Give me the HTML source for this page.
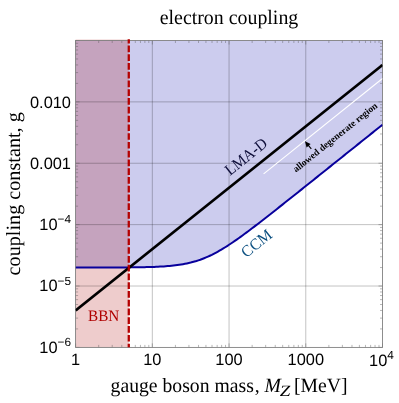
<!DOCTYPE html>
<html><head><meta charset="utf-8"><title>electron coupling</title>
<style>html,body{margin:0;padding:0;background:#fff}svg{display:block}</style></head>
<body>
<svg text-rendering="geometricPrecision" width="399" height="403" viewBox="0 0 399 403">
<rect width="399" height="403" fill="#fff"/>
<polygon points="75.6,40.5 75.60,267.54 77.52,267.54 79.44,267.54 81.35,267.53 83.27,267.53 85.19,267.53 87.11,267.53 89.03,267.53 90.94,267.53 92.86,267.53 94.78,267.52 96.70,267.52 98.62,267.52 100.54,267.52 102.45,267.51 104.37,267.51 106.29,267.50 108.21,267.50 110.13,267.50 112.04,267.49 113.96,267.48 115.88,267.48 117.80,267.47 119.72,267.46 121.63,267.45 123.55,267.44 125.47,267.42 127.39,267.41 129.31,267.39 131.23,267.37 133.14,267.35 135.06,267.33 136.98,267.31 138.90,267.28 140.82,267.24 142.73,267.21 144.65,267.17 146.57,267.12 148.49,267.07 150.41,267.02 152.32,266.95 154.24,266.88 156.16,266.81 158.08,266.72 160.00,266.62 161.92,266.51 163.83,266.39 165.75,266.26 167.67,266.11 169.59,265.95 171.51,265.76 173.42,265.56 175.34,265.34 177.26,265.09 179.18,264.82 181.10,264.53 183.01,264.20 184.93,263.85 186.85,263.46 188.77,263.03 190.69,262.58 192.61,262.08 194.52,261.54 196.44,260.97 198.36,260.35 200.28,259.69 202.20,258.98 204.11,258.23 206.03,257.44 207.95,256.60 209.87,255.72 211.79,254.80 213.70,253.83 215.62,252.82 217.54,251.78 219.46,250.70 221.38,249.58 223.30,248.43 225.21,247.24 227.13,246.03 229.05,244.78 230.97,243.51 232.89,242.22 234.80,240.90 236.72,239.57 238.64,238.21 240.56,236.84 242.48,235.45 244.39,234.05 246.31,232.63 248.23,231.20 250.15,229.76 252.07,228.31 253.99,226.86 255.90,225.39 257.82,223.92 259.74,222.44 261.66,220.95 263.58,219.46 265.49,217.97 267.41,216.47 269.33,214.96 271.25,213.46 273.17,211.95 275.08,210.44 277.00,208.92 278.92,207.41 280.84,205.89 282.76,204.37 284.68,202.84 286.59,201.32 288.51,199.80 290.43,198.27 292.35,196.75 294.27,195.22 296.18,193.69 298.10,192.16 300.02,190.63 301.94,189.10 303.86,187.57 305.77,186.04 307.69,184.51 309.61,182.98 311.53,181.45 313.45,179.91 315.37,178.38 317.28,176.85 319.20,175.31 321.12,173.78 323.04,172.25 324.96,170.72 326.87,169.18 328.79,167.65 330.71,166.11 332.63,164.58 334.55,163.05 336.46,161.51 338.38,159.98 340.30,158.44 342.22,156.91 344.14,155.38 346.06,153.84 347.97,152.31 349.89,150.77 351.81,149.24 353.73,147.71 355.65,146.17 357.56,144.64 359.48,143.10 361.40,141.57 363.32,140.03 365.24,138.50 367.15,136.96 369.07,135.43 370.99,133.90 372.91,132.36 374.83,130.83 376.75,129.29 378.66,127.76 380.58,126.22 382.50,124.69 382.5,40.5" fill="#0000aa" fill-opacity="0.2"/>
<rect x="75.6" y="39.5" width="53.18" height="307.9" fill="#aa0000" fill-opacity="0.2"/>
<g stroke="#000" stroke-opacity="0.24" stroke-width="1"><line x1="152.32" y1="40.5" x2="152.32" y2="347.4"/><line x1="229.05" y1="40.5" x2="229.05" y2="347.4"/><line x1="305.77" y1="40.5" x2="305.77" y2="347.4"/><line x1="75.6" y1="286.02" x2="382.5" y2="286.02"/><line x1="75.6" y1="224.64" x2="382.5" y2="224.64"/><line x1="75.6" y1="163.26" x2="382.5" y2="163.26"/><line x1="75.6" y1="101.88" x2="382.5" y2="101.88"/></g>
<g stroke="#555" stroke-opacity="0.7" stroke-width="0.6"><line x1="75.60" y1="347.4" x2="75.60" y2="343.4"/><line x1="75.60" y1="40.5" x2="75.60" y2="44.5"/><line x1="98.70" y1="347.4" x2="98.70" y2="344.9"/><line x1="98.70" y1="40.5" x2="98.70" y2="43.0"/><line x1="112.21" y1="347.4" x2="112.21" y2="344.9"/><line x1="112.21" y1="40.5" x2="112.21" y2="43.0"/><line x1="121.79" y1="347.4" x2="121.79" y2="344.9"/><line x1="121.79" y1="40.5" x2="121.79" y2="43.0"/><line x1="129.23" y1="347.4" x2="129.23" y2="344.9"/><line x1="129.23" y1="40.5" x2="129.23" y2="43.0"/><line x1="135.30" y1="347.4" x2="135.30" y2="344.9"/><line x1="135.30" y1="40.5" x2="135.30" y2="43.0"/><line x1="140.44" y1="347.4" x2="140.44" y2="344.9"/><line x1="140.44" y1="40.5" x2="140.44" y2="43.0"/><line x1="144.89" y1="347.4" x2="144.89" y2="344.9"/><line x1="144.89" y1="40.5" x2="144.89" y2="43.0"/><line x1="148.81" y1="347.4" x2="148.81" y2="344.9"/><line x1="148.81" y1="40.5" x2="148.81" y2="43.0"/><line x1="152.32" y1="347.4" x2="152.32" y2="343.4"/><line x1="152.32" y1="40.5" x2="152.32" y2="44.5"/><line x1="175.42" y1="347.4" x2="175.42" y2="344.9"/><line x1="175.42" y1="40.5" x2="175.42" y2="43.0"/><line x1="188.93" y1="347.4" x2="188.93" y2="344.9"/><line x1="188.93" y1="40.5" x2="188.93" y2="43.0"/><line x1="198.52" y1="347.4" x2="198.52" y2="344.9"/><line x1="198.52" y1="40.5" x2="198.52" y2="43.0"/><line x1="205.95" y1="347.4" x2="205.95" y2="344.9"/><line x1="205.95" y1="40.5" x2="205.95" y2="43.0"/><line x1="212.03" y1="347.4" x2="212.03" y2="344.9"/><line x1="212.03" y1="40.5" x2="212.03" y2="43.0"/><line x1="217.17" y1="347.4" x2="217.17" y2="344.9"/><line x1="217.17" y1="40.5" x2="217.17" y2="43.0"/><line x1="221.61" y1="347.4" x2="221.61" y2="344.9"/><line x1="221.61" y1="40.5" x2="221.61" y2="43.0"/><line x1="225.54" y1="347.4" x2="225.54" y2="344.9"/><line x1="225.54" y1="40.5" x2="225.54" y2="43.0"/><line x1="229.05" y1="347.4" x2="229.05" y2="343.4"/><line x1="229.05" y1="40.5" x2="229.05" y2="44.5"/><line x1="252.15" y1="347.4" x2="252.15" y2="344.9"/><line x1="252.15" y1="40.5" x2="252.15" y2="43.0"/><line x1="265.66" y1="347.4" x2="265.66" y2="344.9"/><line x1="265.66" y1="40.5" x2="265.66" y2="43.0"/><line x1="275.24" y1="347.4" x2="275.24" y2="344.9"/><line x1="275.24" y1="40.5" x2="275.24" y2="43.0"/><line x1="282.68" y1="347.4" x2="282.68" y2="344.9"/><line x1="282.68" y1="40.5" x2="282.68" y2="43.0"/><line x1="288.75" y1="347.4" x2="288.75" y2="344.9"/><line x1="288.75" y1="40.5" x2="288.75" y2="43.0"/><line x1="293.89" y1="347.4" x2="293.89" y2="344.9"/><line x1="293.89" y1="40.5" x2="293.89" y2="43.0"/><line x1="298.34" y1="347.4" x2="298.34" y2="344.9"/><line x1="298.34" y1="40.5" x2="298.34" y2="43.0"/><line x1="302.26" y1="347.4" x2="302.26" y2="344.9"/><line x1="302.26" y1="40.5" x2="302.26" y2="43.0"/><line x1="305.77" y1="347.4" x2="305.77" y2="343.4"/><line x1="305.77" y1="40.5" x2="305.77" y2="44.5"/><line x1="328.87" y1="347.4" x2="328.87" y2="344.9"/><line x1="328.87" y1="40.5" x2="328.87" y2="43.0"/><line x1="342.38" y1="347.4" x2="342.38" y2="344.9"/><line x1="342.38" y1="40.5" x2="342.38" y2="43.0"/><line x1="351.97" y1="347.4" x2="351.97" y2="344.9"/><line x1="351.97" y1="40.5" x2="351.97" y2="43.0"/><line x1="359.40" y1="347.4" x2="359.40" y2="344.9"/><line x1="359.40" y1="40.5" x2="359.40" y2="43.0"/><line x1="365.48" y1="347.4" x2="365.48" y2="344.9"/><line x1="365.48" y1="40.5" x2="365.48" y2="43.0"/><line x1="370.62" y1="347.4" x2="370.62" y2="344.9"/><line x1="370.62" y1="40.5" x2="370.62" y2="43.0"/><line x1="375.06" y1="347.4" x2="375.06" y2="344.9"/><line x1="375.06" y1="40.5" x2="375.06" y2="43.0"/><line x1="378.99" y1="347.4" x2="378.99" y2="344.9"/><line x1="378.99" y1="40.5" x2="378.99" y2="43.0"/><line x1="382.50" y1="347.4" x2="382.50" y2="343.4"/><line x1="382.50" y1="40.5" x2="382.50" y2="44.5"/><line x1="75.6" y1="347.40" x2="79.6" y2="347.40"/><line x1="382.5" y1="347.40" x2="378.5" y2="347.40"/><line x1="75.6" y1="328.92" x2="78.1" y2="328.92"/><line x1="382.5" y1="328.92" x2="380.0" y2="328.92"/><line x1="75.6" y1="318.11" x2="78.1" y2="318.11"/><line x1="382.5" y1="318.11" x2="380.0" y2="318.11"/><line x1="75.6" y1="310.45" x2="78.1" y2="310.45"/><line x1="382.5" y1="310.45" x2="380.0" y2="310.45"/><line x1="75.6" y1="304.50" x2="78.1" y2="304.50"/><line x1="382.5" y1="304.50" x2="380.0" y2="304.50"/><line x1="75.6" y1="299.64" x2="78.1" y2="299.64"/><line x1="382.5" y1="299.64" x2="380.0" y2="299.64"/><line x1="75.6" y1="295.53" x2="78.1" y2="295.53"/><line x1="382.5" y1="295.53" x2="380.0" y2="295.53"/><line x1="75.6" y1="291.97" x2="78.1" y2="291.97"/><line x1="382.5" y1="291.97" x2="380.0" y2="291.97"/><line x1="75.6" y1="288.83" x2="78.1" y2="288.83"/><line x1="382.5" y1="288.83" x2="380.0" y2="288.83"/><line x1="75.6" y1="286.02" x2="79.6" y2="286.02"/><line x1="382.5" y1="286.02" x2="378.5" y2="286.02"/><line x1="75.6" y1="267.54" x2="78.1" y2="267.54"/><line x1="382.5" y1="267.54" x2="380.0" y2="267.54"/><line x1="75.6" y1="256.73" x2="78.1" y2="256.73"/><line x1="382.5" y1="256.73" x2="380.0" y2="256.73"/><line x1="75.6" y1="249.07" x2="78.1" y2="249.07"/><line x1="382.5" y1="249.07" x2="380.0" y2="249.07"/><line x1="75.6" y1="243.12" x2="78.1" y2="243.12"/><line x1="382.5" y1="243.12" x2="380.0" y2="243.12"/><line x1="75.6" y1="238.26" x2="78.1" y2="238.26"/><line x1="382.5" y1="238.26" x2="380.0" y2="238.26"/><line x1="75.6" y1="234.15" x2="78.1" y2="234.15"/><line x1="382.5" y1="234.15" x2="380.0" y2="234.15"/><line x1="75.6" y1="230.59" x2="78.1" y2="230.59"/><line x1="382.5" y1="230.59" x2="380.0" y2="230.59"/><line x1="75.6" y1="227.45" x2="78.1" y2="227.45"/><line x1="382.5" y1="227.45" x2="380.0" y2="227.45"/><line x1="75.6" y1="224.64" x2="79.6" y2="224.64"/><line x1="382.5" y1="224.64" x2="378.5" y2="224.64"/><line x1="75.6" y1="206.16" x2="78.1" y2="206.16"/><line x1="382.5" y1="206.16" x2="380.0" y2="206.16"/><line x1="75.6" y1="195.35" x2="78.1" y2="195.35"/><line x1="382.5" y1="195.35" x2="380.0" y2="195.35"/><line x1="75.6" y1="187.69" x2="78.1" y2="187.69"/><line x1="382.5" y1="187.69" x2="380.0" y2="187.69"/><line x1="75.6" y1="181.74" x2="78.1" y2="181.74"/><line x1="382.5" y1="181.74" x2="380.0" y2="181.74"/><line x1="75.6" y1="176.88" x2="78.1" y2="176.88"/><line x1="382.5" y1="176.88" x2="380.0" y2="176.88"/><line x1="75.6" y1="172.77" x2="78.1" y2="172.77"/><line x1="382.5" y1="172.77" x2="380.0" y2="172.77"/><line x1="75.6" y1="169.21" x2="78.1" y2="169.21"/><line x1="382.5" y1="169.21" x2="380.0" y2="169.21"/><line x1="75.6" y1="166.07" x2="78.1" y2="166.07"/><line x1="382.5" y1="166.07" x2="380.0" y2="166.07"/><line x1="75.6" y1="163.26" x2="79.6" y2="163.26"/><line x1="382.5" y1="163.26" x2="378.5" y2="163.26"/><line x1="75.6" y1="144.78" x2="78.1" y2="144.78"/><line x1="382.5" y1="144.78" x2="380.0" y2="144.78"/><line x1="75.6" y1="133.97" x2="78.1" y2="133.97"/><line x1="382.5" y1="133.97" x2="380.0" y2="133.97"/><line x1="75.6" y1="126.31" x2="78.1" y2="126.31"/><line x1="382.5" y1="126.31" x2="380.0" y2="126.31"/><line x1="75.6" y1="120.36" x2="78.1" y2="120.36"/><line x1="382.5" y1="120.36" x2="380.0" y2="120.36"/><line x1="75.6" y1="115.50" x2="78.1" y2="115.50"/><line x1="382.5" y1="115.50" x2="380.0" y2="115.50"/><line x1="75.6" y1="111.39" x2="78.1" y2="111.39"/><line x1="382.5" y1="111.39" x2="380.0" y2="111.39"/><line x1="75.6" y1="107.83" x2="78.1" y2="107.83"/><line x1="382.5" y1="107.83" x2="380.0" y2="107.83"/><line x1="75.6" y1="104.69" x2="78.1" y2="104.69"/><line x1="382.5" y1="104.69" x2="380.0" y2="104.69"/><line x1="75.6" y1="101.88" x2="79.6" y2="101.88"/><line x1="382.5" y1="101.88" x2="378.5" y2="101.88"/><line x1="75.6" y1="83.40" x2="78.1" y2="83.40"/><line x1="382.5" y1="83.40" x2="380.0" y2="83.40"/><line x1="75.6" y1="72.59" x2="78.1" y2="72.59"/><line x1="382.5" y1="72.59" x2="380.0" y2="72.59"/><line x1="75.6" y1="64.93" x2="78.1" y2="64.93"/><line x1="382.5" y1="64.93" x2="380.0" y2="64.93"/><line x1="75.6" y1="58.98" x2="78.1" y2="58.98"/><line x1="382.5" y1="58.98" x2="380.0" y2="58.98"/><line x1="75.6" y1="54.12" x2="78.1" y2="54.12"/><line x1="382.5" y1="54.12" x2="380.0" y2="54.12"/><line x1="75.6" y1="50.01" x2="78.1" y2="50.01"/><line x1="382.5" y1="50.01" x2="380.0" y2="50.01"/><line x1="75.6" y1="46.45" x2="78.1" y2="46.45"/><line x1="382.5" y1="46.45" x2="380.0" y2="46.45"/><line x1="75.6" y1="43.31" x2="78.1" y2="43.31"/><line x1="382.5" y1="43.31" x2="380.0" y2="43.31"/><line x1="75.6" y1="40.50" x2="79.6" y2="40.50"/><line x1="382.5" y1="40.50" x2="378.5" y2="40.50"/></g>
<rect x="75.6" y="40.5" width="306.9" height="306.9" fill="none" stroke="#7a7a7a" stroke-width="0.85"/>
<clipPath id="fr"><rect x="75.6" y="39.0" width="306.9" height="308.4"/></clipPath><g clip-path="url(#fr)">
<polyline points="75.60,267.54 77.52,267.54 79.44,267.54 81.35,267.53 83.27,267.53 85.19,267.53 87.11,267.53 89.03,267.53 90.94,267.53 92.86,267.53 94.78,267.52 96.70,267.52 98.62,267.52 100.54,267.52 102.45,267.51 104.37,267.51 106.29,267.50 108.21,267.50 110.13,267.50 112.04,267.49 113.96,267.48 115.88,267.48 117.80,267.47 119.72,267.46 121.63,267.45 123.55,267.44 125.47,267.42 127.39,267.41 129.31,267.39 131.23,267.37 133.14,267.35 135.06,267.33 136.98,267.31 138.90,267.28 140.82,267.24 142.73,267.21 144.65,267.17 146.57,267.12 148.49,267.07 150.41,267.02 152.32,266.95 154.24,266.88 156.16,266.81 158.08,266.72 160.00,266.62 161.92,266.51 163.83,266.39 165.75,266.26 167.67,266.11 169.59,265.95 171.51,265.76 173.42,265.56 175.34,265.34 177.26,265.09 179.18,264.82 181.10,264.53 183.01,264.20 184.93,263.85 186.85,263.46 188.77,263.03 190.69,262.58 192.61,262.08 194.52,261.54 196.44,260.97 198.36,260.35 200.28,259.69 202.20,258.98 204.11,258.23 206.03,257.44 207.95,256.60 209.87,255.72 211.79,254.80 213.70,253.83 215.62,252.82 217.54,251.78 219.46,250.70 221.38,249.58 223.30,248.43 225.21,247.24 227.13,246.03 229.05,244.78 230.97,243.51 232.89,242.22 234.80,240.90 236.72,239.57 238.64,238.21 240.56,236.84 242.48,235.45 244.39,234.05 246.31,232.63 248.23,231.20 250.15,229.76 252.07,228.31 253.99,226.86 255.90,225.39 257.82,223.92 259.74,222.44 261.66,220.95 263.58,219.46 265.49,217.97 267.41,216.47 269.33,214.96 271.25,213.46 273.17,211.95 275.08,210.44 277.00,208.92 278.92,207.41 280.84,205.89 282.76,204.37 284.68,202.84 286.59,201.32 288.51,199.80 290.43,198.27 292.35,196.75 294.27,195.22 296.18,193.69 298.10,192.16 300.02,190.63 301.94,189.10 303.86,187.57 305.77,186.04 307.69,184.51 309.61,182.98 311.53,181.45 313.45,179.91 315.37,178.38 317.28,176.85 319.20,175.31 321.12,173.78 323.04,172.25 324.96,170.72 326.87,169.18 328.79,167.65 330.71,166.11 332.63,164.58 334.55,163.05 336.46,161.51 338.38,159.98 340.30,158.44 342.22,156.91 344.14,155.38 346.06,153.84 347.97,152.31 349.89,150.77 351.81,149.24 353.73,147.71 355.65,146.17 357.56,144.64 359.48,143.10 361.40,141.57 363.32,140.03 365.24,138.50 367.15,136.96 369.07,135.43 370.99,133.90 372.91,132.36 374.83,130.83 376.75,129.29 378.66,127.76 380.58,126.22 382.50,124.69" fill="none" stroke="#08009c" stroke-width="2"/>
<line x1="75.60" y1="310.45" x2="382.50" y2="64.93" stroke="#000" stroke-width="2.7"/>
<line x1="263.6" y1="173.9" x2="382.5" y2="78.5" stroke="#fff" stroke-width="1.05"/>
<line x1="128.78" y1="39.3" x2="128.78" y2="347.4" stroke="#b40000" stroke-width="2.3" stroke-dasharray="6.68 2.09" stroke-dashoffset="2.6"/>
</g>
<g font-family="'Liberation Sans', sans-serif" font-size="16.4" fill="#000"><text x="75.60" y="365.2" text-anchor="middle">1</text><text x="152.32" y="365.2" text-anchor="middle">10</text><text x="229.05" y="365.2" text-anchor="middle">100</text><text x="305.77" y="365.2" text-anchor="middle">1000</text><text x="381.50" y="366.4" text-anchor="middle">10<tspan dy="-7.3" font-size="11.8">4</tspan></text><text x="71" y="107.88" text-anchor="end">0.010</text><text x="71" y="169.26" text-anchor="end">0.001</text><text x="71" y="230.04" text-anchor="end">10<tspan dy="-6.9" font-size="11.8">−4</tspan></text><text x="71" y="291.42" text-anchor="end">10<tspan dy="-6.9" font-size="11.8">−5</tspan></text><text x="71" y="352.80" text-anchor="end">10<tspan dy="-6.9" font-size="11.8">−6</tspan></text></g>
<g font-family="'Liberation Serif', serif" fill="#000">
<text transform="translate(229,23.8) scale(0.975,1)" font-size="20.4" text-anchor="middle">electron coupling</text>
<text transform="translate(110.6,392) scale(0.975,1)" font-size="20.2">gauge boson mass<tspan dx="0.9">,</tspan></text>
<text transform="translate(264.6,392) scale(0.975,1)" font-size="20.2" font-style="italic">M</text>
<text transform="translate(279.8,396) scale(1.2,1)" font-size="15.8" font-style="italic">Z</text>
<text transform="translate(294,392) scale(0.975,1)" font-size="20.2">[MeV]</text>
<text transform="translate(19.5,193.8) rotate(-90)" font-size="20.2" text-anchor="middle">coupling constant, g</text>
<text transform="translate(88,320.6) scale(0.95,1)" font-size="16" fill="#b00000">BBN</text>
<text transform="translate(230,176) rotate(-38.66) scale(0.94,1)" font-size="16" fill="#0e0e3a">LMA-D</text>
<text transform="translate(246.3,258.2) rotate(-38.66) scale(0.97,1)" font-size="16" fill="#0b4f80">CCM</text>
<text transform="translate(296,172.6) rotate(-38.66)" font-size="9.45" font-weight="bold">allowed degenerate region</text>
</g>
<g stroke="#000" stroke-width="1.1" fill="#000"><line x1="311.3" y1="148.9" x2="307.5" y2="144.3"/><polygon points="305.0,141.3 310.6,144.1 306.6,147.4" stroke="none"/></g>
</svg>
</body></html>
